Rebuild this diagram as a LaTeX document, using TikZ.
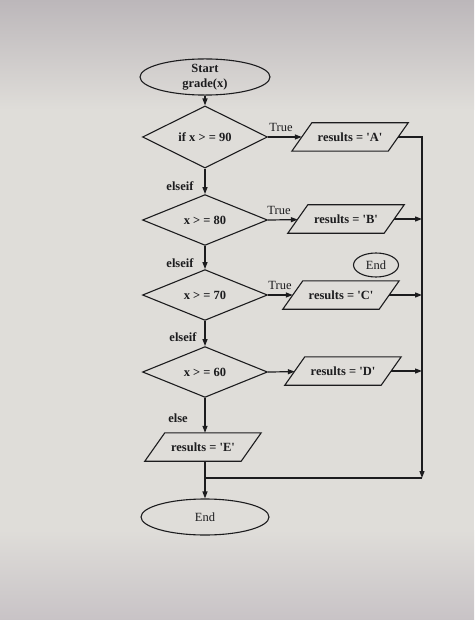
\documentclass[tikz,border=0pt]{standalone}
\usepackage{fontspec}
\setmainfont{Liberation Serif}[Ligatures=TeXOff]
\usetikzlibrary{shapes.geometric,arrows.meta}
\definecolor{ink}{RGB}{28,28,30}
\definecolor{bg}{RGB}{223,221,217}
\definecolor{bgtop}{RGB}{188,183,186}
\definecolor{bgbot}{RGB}{200,195,198}
\begin{document}
\begin{tikzpicture}[x=1pt,y=-1pt,
  ln/.style={draw=ink, line width=1.2pt},
  arr/.style={ln, -{Triangle[length=7pt,width=5pt]}},
  txt/.style={text=ink, font=\fontsize{12.5}{14.5}\selectfont\bfseries},
  term/.style={ellipse, draw=ink, line width=1.1pt, inner sep=0pt, align=center, txt},
  dec/.style={diamond, draw=ink, line width=1.1pt, inner sep=0pt, minimum width=125pt, minimum height=48pt, txt},
  io/.style={rectangle, inner sep=0pt, minimum width=96pt, minimum height=28pt, txt},
  lab/.style={txt},
  truel/.style={text=ink, font=\fontsize{12.5}{13.5}\selectfont}
]
\useasboundingbox (0,0) rectangle (474,620);
\fill[bg] (0,0) rectangle (474,620);
\shade[top color=bgtop, bottom color=bg] (0,0) rectangle (474,110);
\shade[top color=bg, bottom color=bgbot] (0,530) rectangle (474,620);

\node[term, minimum width=130pt, minimum height=36pt] (start) at (205,77) {Start\\grade(x)};
\node[dec] (d1) at (205,137) {if x > = 90};
\node[dec] (d2) at (205,220) {x > = 80};
\node[dec] (d3) at (205,295) {x > = 70};
\node[dec] (d4) at (205,372) {x > = 60};

\node[io] (pa) at (350,137) {results = 'A'};
\node[io] (pb) at (346,219) {results = 'B'};
\node[io] (pc) at (341,295) {results = 'C'};
\node[io] (pd) at (343,371) {results = 'D'};
\node[io] (pe) at (203,447) {results = 'E'};
\foreach \n in {pa,pb,pc,pd,pe}
  \draw[draw=ink, line width=1.1pt]
    ([xshift=-10pt]\n.south west) -- ([xshift=10pt]\n.north west) --
    ([xshift=10pt]\n.north east) -- ([xshift=-10pt]\n.south east) -- cycle;

\node[term, minimum width=128pt, minimum height=36pt, font=\fontsize{12.5}{13.5}\selectfont] (end) at (205,517) {End};
\node[term, minimum width=45pt, minimum height=24pt, font=\fontsize{12.5}{13.5}\selectfont] (endb) at (376,265) {End};

\node[lab] (l1) at (180,186) {elseif};
\node[lab] (l2) at (180,263) {elseif};
\node[lab] (l3) at (183,337) {elseif};
\node[lab] (l4) at (178,418) {else};
\node[truel] (t1) at (281,127) {True};
\node[truel] (t2) at (279,210) {True};
\node[truel] (t3) at (280,285) {True};

\coordinate (rb) at (422,478);

\draw[arr] (start) -- (d1);
\draw[arr] (d1) -- (d2);
\draw[arr] (d2) -- (d3);
\draw[arr] (d3) -- (d4);
\draw[arr] (d4.south) -- (d4.south |- pe.north);
\draw[arr] (pe.south -| d4.south) -- (end);

\draw[arr] (d1.east) -- (pa);
\draw[arr] (d2.east) -- (pb);
\draw[arr] (d3.east) -- (pc);
\draw[arr] (d4.east) -- (pd);

\draw[arr] (pa.east) -| (rb);
\draw[arr] (pb.east) -- (pb.east -| rb);
\draw[arr] (pc.east) -- (pc.east -| rb);
\draw[arr] (pd.east) -- (pd.east -| rb);
\draw[ln] (rb) -- (rb -| end.north);
\end{tikzpicture}
\end{document}
